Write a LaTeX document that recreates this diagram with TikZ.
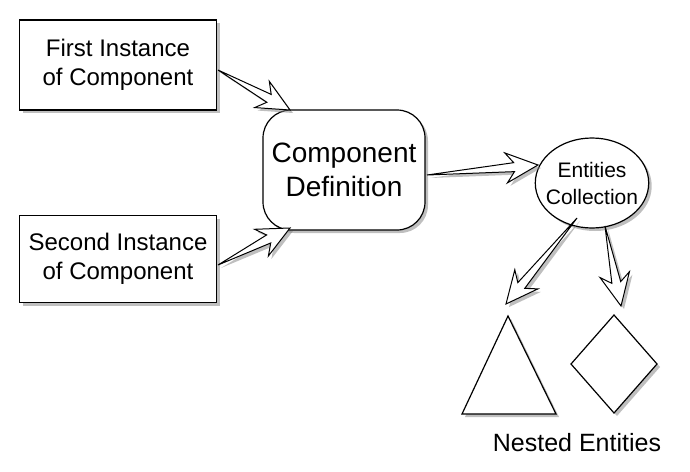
\documentclass[tikz,border=0pt]{standalone}
\usepackage{fontspec}
\setmainfont{Liberation Sans}
\usetikzlibrary{shadows,shapes.geometric,calc}
\newcommand\taparrow[2]{%
  \draw[arrowshape] (#1) -- ($($(#2)!24pt!(#1)$)!4.5pt!90:(#2)$) -- ($($(#2)!32pt!(#1)$)!15pt!90:(#2)$)
   -- (#2) -- ($($(#2)!32pt!(#1)$)!15pt!-90:(#2)$) -- ($($(#2)!24pt!(#1)$)!4.5pt!-90:(#2)$) -- cycle;}
\begin{document}
\begin{tikzpicture}[x=1pt,y=-1pt,
  sh/.style={drop shadow={shadow xshift=3pt,shadow yshift=-3pt,opacity=0.5}},
  box/.style={draw,line width=1.2pt,fill=white,sh,align=center,inner sep=0pt,font=\fontsize{24}{29}\selectfont},
  arrowshape/.style={line width=1pt,fill=white,line join=miter,sh}]
\useasboundingbox (0,0) rectangle (690,471);
\node[box,minimum width=197pt,minimum height=90pt] (a) at (118,65) {First Instance\\of Component};
\node[box,minimum width=197pt,minimum height=87pt] (b) at (118,259) {Second Instance\\of Component};
\node[box,rounded corners=28pt,minimum width=162pt,minimum height=120pt,font=\fontsize{28}{34}\selectfont] (c) at (344,170) {Component\\Definition};
\node[box,ellipse,minimum width=112pt,minimum height=90pt,inner sep=-6pt,font=\fontsize{21}{27}\selectfont] (e) at (592,183) {Entities\\Collection};
\coordinate (t1) at (508,316); \coordinate (t2) at (462,414); \coordinate (t3) at (556,414);
\draw[line width=1.2pt,fill=white,sh] (t1) -- (t2) -- (t3) -- cycle;
\coordinate (d1) at (614,315); \coordinate (d2) at (657,364); \coordinate (d3) at (614,413); \coordinate (d4) at (571,364);
\draw[line width=1.2pt,fill=white,sh] (d1) -- (d2) -- (d3) -- (d4) -- cycle;
\node[font=\fontsize{25}{30}\selectfont] (n) at (577,443) {Nested Entities};
\coordinate (p1) at (218,70); \coordinate (q1) at (290,110);
\coordinate (p2) at (218,265); \coordinate (q2) at (290,228);
\coordinate (p3) at (427,175); \coordinate (q3) at (538,165);
\coordinate (p4) at (577,218); \coordinate (q4) at (506,304);
\coordinate (p5) at (605,226); \coordinate (q5) at (621,306);
\taparrow{p1}{q1}
\taparrow{p2}{q2}
\taparrow{p3}{q3}
\taparrow{p4}{q4}
\taparrow{p5}{q5}
\end{tikzpicture}
\end{document}
